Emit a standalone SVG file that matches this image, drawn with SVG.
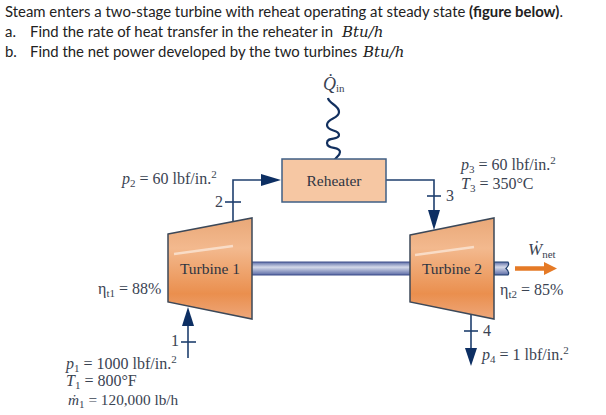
<svg xmlns="http://www.w3.org/2000/svg" width="606" height="415" viewBox="0 0 606 415">
<style>
.q{font-family:"Lato","Open Sans","Liberation Sans",sans-serif;font-size:14.900px;fill:#222}
.m{font-family:"DejaVu Serif","Liberation Serif",serif;font-size:15px;font-style:italic;fill:#222}
.t{font-family:"Liberation Serif",serif;font-size:16px;fill:#3a4352}
.l{font-family:"Liberation Serif",serif;font-size:15.500px;fill:#2e3542}
.i{font-style:italic}
.u{font-size:11px}
.s{stroke:#1f3f6e;stroke-width:1.600;fill:none}
.h{fill:#0d2f63}
.b{stroke:#3c4858;stroke-width:1.500}
</style>
<defs>
<linearGradient id="tg" x1="0" y1="0" x2="0" y2="1">
<stop offset="0" stop-color="#e9a878"/><stop offset="0.3" stop-color="#f3b98e"/><stop offset="0.75" stop-color="#ea8f4e"/><stop offset="1" stop-color="#eea77a"/>
</linearGradient>
<linearGradient id="sg" x1="0" y1="0" x2="0" y2="1">
<stop offset="0" stop-color="#5f6fa8"/><stop offset="0.4" stop-color="#d5daea"/><stop offset="1" stop-color="#5a6aa5"/>
</linearGradient>
</defs>
<rect width="606" height="415" fill="#fff"/>
<g id="question">
<text class="q" x="5" y="17">Steam enters a two-stage turbine with reheat operating at steady state <tspan font-weight="bold">(figure below)</tspan>.</text>
<text class="q" x="5" y="37">a.</text><text class="q" x="30" y="37">Find the rate of heat transfer in the reheater in <tspan class="m" x="342">Btu/h</tspan></text>
<text class="q" x="5" y="57">b.</text><text class="q" x="30" y="57">Find the net power developed by the two turbines <tspan class="m" x="363">Btu/h</tspan></text>
</g>
<g id="shaft">
<rect x="252" y="262" width="158" height="13" fill="url(#sg)"/>
<path d="M252 262H410M252 275H410" stroke="#3f4f8a" stroke-width="1"/>
<path d="M494 262H508Q510 265 506 268.500Q510 272 508 275H494Z" fill="url(#sg)" stroke="#1f3f6e" stroke-width="1.200"/>
</g>
<g id="connectors">
<path class="s" d="M233 222V180H266"/><path class="h" d="M261 174L281 180L261 186Z"/>
<path class="s" d="M225 202H241"/>
<path class="s" d="M386 180H434V212"/><path class="h" d="M428 210L434 230L440 210Z"/>
<path class="s" d="M427 196H441"/>
<path class="s" d="M188 358V322"/><path class="h" d="M182 326L188 307L194 326Z"/>
<path class="s" d="M181 342H196"/>
<path class="s" d="M471 315V350"/><path class="h" d="M465 348L471 366L477 348Z"/>
<path class="s" d="M464 331H478"/>
<path d="M328 98C329 104 339 105 339 112C339 119 327 118 327 125C327 132 339 129 339 135C339 141 327 136 327 143C327 150 340 146 340 152C340 157 334 157 333 163" fill="none" stroke="#12305f" stroke-width="2.200"/><path class="h" d="M327 160L333 173L339 160Z"/>
<path d="M515 268.500H546" stroke="#e57a26" stroke-width="4.500"/><path d="M544 262L557 268.500L544 275Z" fill="#e57a26"/>
</g>
<g id="reheater">
<rect x="282" y="159" width="104" height="43" fill="#f6c7a3" stroke="#3f5f85" stroke-width="1.500"/>
<text class="l" x="334" y="186" text-anchor="middle">Reheater</text>
</g>
<g id="turbine1">
<path class="b" d="M168 234L252 218V319L168 302Z" fill="url(#tg)"/>
<path d="M174 254L233 246" stroke="#fbe6d6" stroke-width="2.500" opacity="0.8"/>
<text class="l" x="210" y="274" text-anchor="middle">Turbine 1</text>
</g>
<g id="turbine2">
<path class="b" d="M410 235L494 218V319L410 302Z" fill="url(#tg)"/>
<path d="M415 255L474 247" stroke="#fbe6d6" stroke-width="2.500" opacity="0.8"/>
<text class="l" x="452" y="274" text-anchor="middle">Turbine 2</text>
</g>
<g id="labels">
<text class="t" x="122" y="184"><tspan class="i">p</tspan><tspan class="u" dy="3">2</tspan><tspan dy="-3"> = 60 lbf/in.</tspan><tspan class="u" dy="-6">2</tspan></text>
<text class="t" x="461" y="170"><tspan class="i">p</tspan><tspan class="u" dy="3">3</tspan><tspan dy="-3"> = 60 lbf/in.</tspan><tspan class="u" dy="-6">2</tspan></text>
<text class="t" x="461" y="189"><tspan class="i">T</tspan><tspan class="u" dy="3">3</tspan><tspan dy="-3"> = 350°C</tspan></text>
<text class="t" x="98" y="294">η<tspan class="u" dy="3">t1</tspan><tspan dy="-3"> = 88%</tspan></text>
<text class="t" x="500" y="295">η<tspan class="u" dy="3">t2</tspan><tspan dy="-3"> = 85%</tspan></text>
<text class="t" x="482" y="360"><tspan class="i">p</tspan><tspan class="u" dy="3">4</tspan><tspan dy="-3"> = 1 lbf/in.</tspan><tspan class="u" dy="-6">2</tspan></text>
<text class="t" x="66" y="369"><tspan class="i">p</tspan><tspan class="u" dy="3">1</tspan><tspan dy="-3"> = 1000 lbf/in.</tspan><tspan class="u" dy="-6">2</tspan></text>
<text class="t" x="66" y="386"><tspan class="i">T</tspan><tspan class="u" dy="3">1</tspan><tspan dy="-3"> = 800°F</tspan></text>
<text class="t" x="68" y="405" font-size="15.300" style="font-size:15.300px"><tspan class="i">ṁ</tspan><tspan class="u" dy="3">1</tspan><tspan dy="-3"> = 120,000 lb/h</tspan></text>
<text class="t" x="323" y="90"><tspan class="i" font-size="18">Q̇</tspan><tspan class="u" dy="2">in</tspan></text>
<text class="t" x="528" y="255"><tspan class="i" font-size="17">Ẇ</tspan><tspan class="u" dy="3">net</tspan></text>
<text class="t" x="215" y="207">2</text>
<text class="t" x="446" y="201">3</text>
<text class="t" x="171" y="346">1</text>
<text class="t" x="483" y="336">4</text>
</g>
</svg>
